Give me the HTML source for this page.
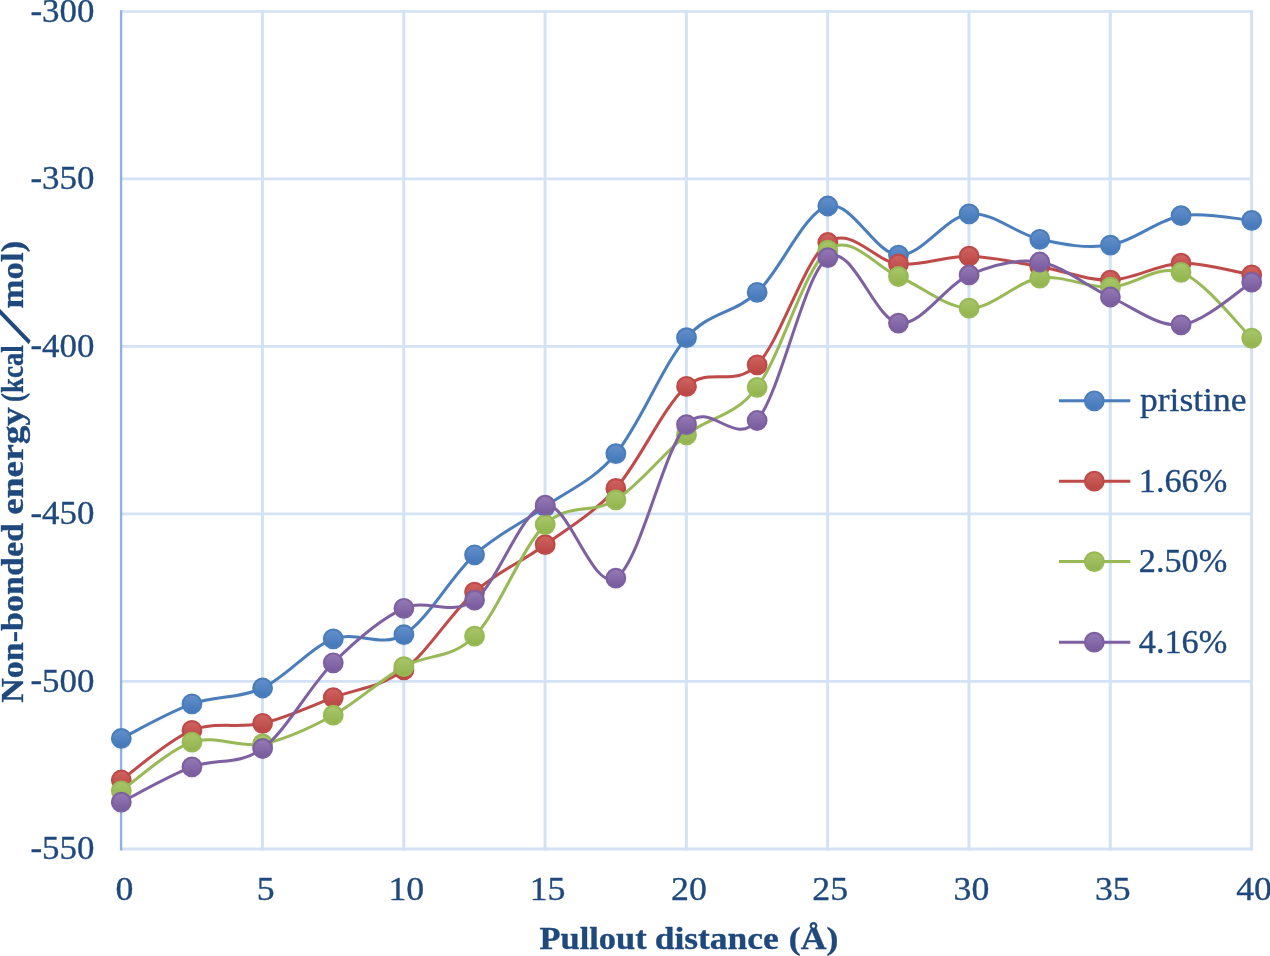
<!DOCTYPE html><html><head><meta charset="utf-8"><title>Pullout chart</title>
<style>html,body{margin:0;padding:0;background:#fff}svg{display:block}text{font-family:"Liberation Serif",serif;fill:#1F497D;stroke:#1F497D;stroke-width:0.35px}</style></head><body>
<svg width="1270" height="956" viewBox="0 0 1270 956">
<defs>
<linearGradient id="g_blue" x1="0" y1="0" x2="0" y2="1"><stop offset="0" stop-color="#6490CB"/><stop offset="1" stop-color="#4276B8"/></linearGradient>
<linearGradient id="g_red" x1="0" y1="0" x2="0" y2="1"><stop offset="0" stop-color="#D06461"/><stop offset="1" stop-color="#B84542"/></linearGradient>
<linearGradient id="g_green" x1="0" y1="0" x2="0" y2="1"><stop offset="0" stop-color="#A9C76C"/><stop offset="1" stop-color="#90B34B"/></linearGradient>
<linearGradient id="g_purple" x1="0" y1="0" x2="0" y2="1"><stop offset="0" stop-color="#957AB6"/><stop offset="1" stop-color="#76599B"/></linearGradient>
<filter id="sh" x="-20%" y="-20%" width="140%" height="140%"><feGaussianBlur in="SourceAlpha" stdDeviation="1.2"/><feOffset dx="0" dy="1" result="b"/><feComponentTransfer><feFuncA type="linear" slope="0.05"/></feComponentTransfer><feMerge><feMergeNode/><feMergeNode in="SourceGraphic"/></feMerge></filter>
</defs>
<rect width="1270" height="956" fill="#fff"/>
<line x1="121.3" y1="11.50" x2="1252.9" y2="11.50" stroke="#D3E2F4" stroke-width="2.7"/>
<line x1="121.3" y1="178.95" x2="1252.9" y2="178.95" stroke="#D3E2F4" stroke-width="2.7"/>
<line x1="121.3" y1="346.40" x2="1252.9" y2="346.40" stroke="#D3E2F4" stroke-width="2.7"/>
<line x1="121.3" y1="513.85" x2="1252.9" y2="513.85" stroke="#D3E2F4" stroke-width="2.7"/>
<line x1="121.3" y1="681.30" x2="1252.9" y2="681.30" stroke="#D3E2F4" stroke-width="2.7"/>
<line x1="121.3" y1="849.10" x2="1252.9" y2="849.10" stroke="#D3E2F4" stroke-width="3.0"/>
<line x1="262.45" y1="10.3" x2="262.45" y2="850.6" stroke="#D3E2F4" stroke-width="3"/>
<line x1="403.75" y1="10.3" x2="403.75" y2="850.6" stroke="#D3E2F4" stroke-width="3"/>
<line x1="545.05" y1="10.3" x2="545.05" y2="850.6" stroke="#D3E2F4" stroke-width="3"/>
<line x1="686.35" y1="10.3" x2="686.35" y2="850.6" stroke="#D3E2F4" stroke-width="3"/>
<line x1="827.65" y1="10.3" x2="827.65" y2="850.6" stroke="#D3E2F4" stroke-width="3"/>
<line x1="968.95" y1="10.3" x2="968.95" y2="850.6" stroke="#D3E2F4" stroke-width="3"/>
<line x1="1110.25" y1="10.3" x2="1110.25" y2="850.6" stroke="#D3E2F4" stroke-width="3"/>
<line x1="1251.55" y1="10.3" x2="1251.55" y2="850.6" stroke="#D3E2F4" stroke-width="3"/>
<line x1="121.10" y1="10.3" x2="121.10" y2="850.6" stroke="#8FB2E6" stroke-width="2.4"/>
<g filter="url(#sh)">
<path d="M121.30 738.40 C133.07 732.65 168.40 712.30 191.95 703.90 C215.50 695.50 239.05 698.83 262.60 688.00 C286.15 677.17 309.70 647.80 333.25 638.90 C356.80 630.00 380.35 648.62 403.90 634.60 C427.45 620.58 451.00 576.13 474.55 554.80 C498.10 533.47 521.65 523.45 545.20 506.60 C568.75 489.75 592.30 481.85 615.85 453.70 C639.40 425.55 662.95 364.58 686.50 337.70 C710.05 310.82 733.60 314.35 757.15 292.40 C780.70 270.45 804.25 212.22 827.80 206.00 C851.35 199.78 874.90 253.78 898.45 255.10 C922.00 256.42 945.55 216.53 969.10 213.90 C992.65 211.27 1016.20 234.10 1039.75 239.30 C1063.30 244.50 1086.85 249.03 1110.40 245.10 C1133.95 241.17 1157.50 219.82 1181.05 215.70 C1204.60 211.58 1239.92 219.62 1251.70 220.40" fill="none" stroke="#4A7EBB" stroke-width="3" stroke-linecap="round" stroke-linejoin="round"/>
<circle cx="121.30" cy="738.40" r="9.3" fill="url(#g_blue)" stroke="#4A7EBB" stroke-width="2.2"/>
<circle cx="191.95" cy="703.90" r="9.3" fill="url(#g_blue)" stroke="#4A7EBB" stroke-width="2.2"/>
<circle cx="262.60" cy="688.00" r="9.3" fill="url(#g_blue)" stroke="#4A7EBB" stroke-width="2.2"/>
<circle cx="333.25" cy="638.90" r="9.3" fill="url(#g_blue)" stroke="#4A7EBB" stroke-width="2.2"/>
<circle cx="403.90" cy="634.60" r="9.3" fill="url(#g_blue)" stroke="#4A7EBB" stroke-width="2.2"/>
<circle cx="474.55" cy="554.80" r="9.3" fill="url(#g_blue)" stroke="#4A7EBB" stroke-width="2.2"/>
<circle cx="545.20" cy="506.60" r="9.3" fill="url(#g_blue)" stroke="#4A7EBB" stroke-width="2.2"/>
<circle cx="615.85" cy="453.70" r="9.3" fill="url(#g_blue)" stroke="#4A7EBB" stroke-width="2.2"/>
<circle cx="686.50" cy="337.70" r="9.3" fill="url(#g_blue)" stroke="#4A7EBB" stroke-width="2.2"/>
<circle cx="757.15" cy="292.40" r="9.3" fill="url(#g_blue)" stroke="#4A7EBB" stroke-width="2.2"/>
<circle cx="827.80" cy="206.00" r="9.3" fill="url(#g_blue)" stroke="#4A7EBB" stroke-width="2.2"/>
<circle cx="898.45" cy="255.10" r="9.3" fill="url(#g_blue)" stroke="#4A7EBB" stroke-width="2.2"/>
<circle cx="969.10" cy="213.90" r="9.3" fill="url(#g_blue)" stroke="#4A7EBB" stroke-width="2.2"/>
<circle cx="1039.75" cy="239.30" r="9.3" fill="url(#g_blue)" stroke="#4A7EBB" stroke-width="2.2"/>
<circle cx="1110.40" cy="245.10" r="9.3" fill="url(#g_blue)" stroke="#4A7EBB" stroke-width="2.2"/>
<circle cx="1181.05" cy="215.70" r="9.3" fill="url(#g_blue)" stroke="#4A7EBB" stroke-width="2.2"/>
<circle cx="1251.70" cy="220.40" r="9.3" fill="url(#g_blue)" stroke="#4A7EBB" stroke-width="2.2"/>
</g>
<g filter="url(#sh)">
<path d="M121.30 780.00 C133.07 771.73 168.40 739.85 191.95 730.40 C215.50 720.95 239.05 728.77 262.60 723.30 C286.15 717.83 309.70 706.50 333.25 697.60 C356.80 688.70 380.35 687.48 403.90 669.90 C427.45 652.32 451.00 612.97 474.55 592.10 C498.10 571.23 521.65 561.98 545.20 544.70 C568.75 527.42 592.30 514.78 615.85 488.40 C639.40 462.02 662.95 407.00 686.50 386.40 C710.05 365.80 733.60 388.78 757.15 364.80 C780.70 340.82 804.25 259.32 827.80 242.50 C851.35 225.68 874.90 261.62 898.45 263.90 C922.00 266.18 945.55 255.75 969.10 256.20 C992.65 256.65 1016.20 262.62 1039.75 266.60 C1063.30 270.58 1086.85 280.67 1110.40 280.10 C1133.95 279.53 1157.50 264.07 1181.05 263.20 C1204.60 262.33 1239.92 272.95 1251.70 274.90" fill="none" stroke="#BE4B48" stroke-width="3" stroke-linecap="round" stroke-linejoin="round"/>
<circle cx="121.30" cy="780.00" r="9.3" fill="url(#g_red)" stroke="#BE4B48" stroke-width="2.2"/>
<circle cx="191.95" cy="730.40" r="9.3" fill="url(#g_red)" stroke="#BE4B48" stroke-width="2.2"/>
<circle cx="262.60" cy="723.30" r="9.3" fill="url(#g_red)" stroke="#BE4B48" stroke-width="2.2"/>
<circle cx="333.25" cy="697.60" r="9.3" fill="url(#g_red)" stroke="#BE4B48" stroke-width="2.2"/>
<circle cx="403.90" cy="669.90" r="9.3" fill="url(#g_red)" stroke="#BE4B48" stroke-width="2.2"/>
<circle cx="474.55" cy="592.10" r="9.3" fill="url(#g_red)" stroke="#BE4B48" stroke-width="2.2"/>
<circle cx="545.20" cy="544.70" r="9.3" fill="url(#g_red)" stroke="#BE4B48" stroke-width="2.2"/>
<circle cx="615.85" cy="488.40" r="9.3" fill="url(#g_red)" stroke="#BE4B48" stroke-width="2.2"/>
<circle cx="686.50" cy="386.40" r="9.3" fill="url(#g_red)" stroke="#BE4B48" stroke-width="2.2"/>
<circle cx="757.15" cy="364.80" r="9.3" fill="url(#g_red)" stroke="#BE4B48" stroke-width="2.2"/>
<circle cx="827.80" cy="242.50" r="9.3" fill="url(#g_red)" stroke="#BE4B48" stroke-width="2.2"/>
<circle cx="898.45" cy="263.90" r="9.3" fill="url(#g_red)" stroke="#BE4B48" stroke-width="2.2"/>
<circle cx="969.10" cy="256.20" r="9.3" fill="url(#g_red)" stroke="#BE4B48" stroke-width="2.2"/>
<circle cx="1039.75" cy="266.60" r="9.3" fill="url(#g_red)" stroke="#BE4B48" stroke-width="2.2"/>
<circle cx="1110.40" cy="280.10" r="9.3" fill="url(#g_red)" stroke="#BE4B48" stroke-width="2.2"/>
<circle cx="1181.05" cy="263.20" r="9.3" fill="url(#g_red)" stroke="#BE4B48" stroke-width="2.2"/>
<circle cx="1251.70" cy="274.90" r="9.3" fill="url(#g_red)" stroke="#BE4B48" stroke-width="2.2"/>
</g>
<g filter="url(#sh)">
<path d="M121.30 790.80 C133.07 782.70 168.40 750.02 191.95 742.20 C215.50 734.38 239.05 748.40 262.60 743.90 C286.15 739.40 309.70 728.08 333.25 715.20 C356.80 702.32 380.35 679.77 403.90 666.60 C427.45 653.43 451.00 659.87 474.55 636.20 C498.10 612.53 521.65 547.32 545.20 524.60 C568.75 501.88 592.30 514.87 615.85 499.90 C639.40 484.93 662.95 453.57 686.50 434.80 C710.05 416.03 733.60 418.07 757.15 387.30 C780.70 356.53 804.25 268.67 827.80 250.20 C851.35 231.73 874.90 266.83 898.45 276.50 C922.00 286.17 945.55 307.93 969.10 308.20 C992.65 308.47 1016.20 281.60 1039.75 278.10 C1063.30 274.60 1086.85 288.17 1110.40 287.20 C1133.95 286.23 1157.50 263.82 1181.05 272.30 C1204.60 280.78 1239.92 327.13 1251.70 338.10" fill="none" stroke="#98B954" stroke-width="3" stroke-linecap="round" stroke-linejoin="round"/>
<circle cx="121.30" cy="790.80" r="9.3" fill="url(#g_green)" stroke="#98B954" stroke-width="2.2"/>
<circle cx="191.95" cy="742.20" r="9.3" fill="url(#g_green)" stroke="#98B954" stroke-width="2.2"/>
<circle cx="262.60" cy="743.90" r="9.3" fill="url(#g_green)" stroke="#98B954" stroke-width="2.2"/>
<circle cx="333.25" cy="715.20" r="9.3" fill="url(#g_green)" stroke="#98B954" stroke-width="2.2"/>
<circle cx="403.90" cy="666.60" r="9.3" fill="url(#g_green)" stroke="#98B954" stroke-width="2.2"/>
<circle cx="474.55" cy="636.20" r="9.3" fill="url(#g_green)" stroke="#98B954" stroke-width="2.2"/>
<circle cx="545.20" cy="524.60" r="9.3" fill="url(#g_green)" stroke="#98B954" stroke-width="2.2"/>
<circle cx="615.85" cy="499.90" r="9.3" fill="url(#g_green)" stroke="#98B954" stroke-width="2.2"/>
<circle cx="686.50" cy="434.80" r="9.3" fill="url(#g_green)" stroke="#98B954" stroke-width="2.2"/>
<circle cx="757.15" cy="387.30" r="9.3" fill="url(#g_green)" stroke="#98B954" stroke-width="2.2"/>
<circle cx="827.80" cy="250.20" r="9.3" fill="url(#g_green)" stroke="#98B954" stroke-width="2.2"/>
<circle cx="898.45" cy="276.50" r="9.3" fill="url(#g_green)" stroke="#98B954" stroke-width="2.2"/>
<circle cx="969.10" cy="308.20" r="9.3" fill="url(#g_green)" stroke="#98B954" stroke-width="2.2"/>
<circle cx="1039.75" cy="278.10" r="9.3" fill="url(#g_green)" stroke="#98B954" stroke-width="2.2"/>
<circle cx="1110.40" cy="287.20" r="9.3" fill="url(#g_green)" stroke="#98B954" stroke-width="2.2"/>
<circle cx="1181.05" cy="272.30" r="9.3" fill="url(#g_green)" stroke="#98B954" stroke-width="2.2"/>
<circle cx="1251.70" cy="338.10" r="9.3" fill="url(#g_green)" stroke="#98B954" stroke-width="2.2"/>
</g>
<g filter="url(#sh)">
<path d="M121.30 802.20 C133.07 796.32 168.40 775.85 191.95 766.90 C215.50 757.95 239.05 765.85 262.60 748.50 C286.15 731.15 309.70 686.17 333.25 662.80 C356.80 639.43 380.35 618.75 403.90 608.30 C427.45 597.85 451.00 617.28 474.55 600.10 C498.10 582.92 521.65 508.87 545.20 505.20 C568.75 501.53 592.30 591.52 615.85 578.10 C639.40 564.68 662.95 450.97 686.50 424.70 C710.05 398.43 733.60 448.35 757.15 420.50 C780.70 392.65 804.25 273.83 827.80 257.60 C851.35 241.37 874.90 320.22 898.45 323.10 C922.00 325.98 945.55 285.08 969.10 274.90 C992.65 264.72 1016.20 258.32 1039.75 262.00 C1063.30 265.68 1086.85 286.53 1110.40 297.00 C1133.95 307.47 1157.50 327.27 1181.05 324.80 C1204.60 322.33 1239.92 289.30 1251.70 282.20" fill="none" stroke="#7D60A0" stroke-width="3" stroke-linecap="round" stroke-linejoin="round"/>
<circle cx="121.30" cy="802.20" r="9.3" fill="url(#g_purple)" stroke="#7D60A0" stroke-width="2.2"/>
<circle cx="191.95" cy="766.90" r="9.3" fill="url(#g_purple)" stroke="#7D60A0" stroke-width="2.2"/>
<circle cx="262.60" cy="748.50" r="9.3" fill="url(#g_purple)" stroke="#7D60A0" stroke-width="2.2"/>
<circle cx="333.25" cy="662.80" r="9.3" fill="url(#g_purple)" stroke="#7D60A0" stroke-width="2.2"/>
<circle cx="403.90" cy="608.30" r="9.3" fill="url(#g_purple)" stroke="#7D60A0" stroke-width="2.2"/>
<circle cx="474.55" cy="600.10" r="9.3" fill="url(#g_purple)" stroke="#7D60A0" stroke-width="2.2"/>
<circle cx="545.20" cy="505.20" r="9.3" fill="url(#g_purple)" stroke="#7D60A0" stroke-width="2.2"/>
<circle cx="615.85" cy="578.10" r="9.3" fill="url(#g_purple)" stroke="#7D60A0" stroke-width="2.2"/>
<circle cx="686.50" cy="424.70" r="9.3" fill="url(#g_purple)" stroke="#7D60A0" stroke-width="2.2"/>
<circle cx="757.15" cy="420.50" r="9.3" fill="url(#g_purple)" stroke="#7D60A0" stroke-width="2.2"/>
<circle cx="827.80" cy="257.60" r="9.3" fill="url(#g_purple)" stroke="#7D60A0" stroke-width="2.2"/>
<circle cx="898.45" cy="323.10" r="9.3" fill="url(#g_purple)" stroke="#7D60A0" stroke-width="2.2"/>
<circle cx="969.10" cy="274.90" r="9.3" fill="url(#g_purple)" stroke="#7D60A0" stroke-width="2.2"/>
<circle cx="1039.75" cy="262.00" r="9.3" fill="url(#g_purple)" stroke="#7D60A0" stroke-width="2.2"/>
<circle cx="1110.40" cy="297.00" r="9.3" fill="url(#g_purple)" stroke="#7D60A0" stroke-width="2.2"/>
<circle cx="1181.05" cy="324.80" r="9.3" fill="url(#g_purple)" stroke="#7D60A0" stroke-width="2.2"/>
<circle cx="1251.70" cy="282.20" r="9.3" fill="url(#g_purple)" stroke="#7D60A0" stroke-width="2.2"/>
</g>
<g filter="url(#sh)"><line x1="1059" y1="400.8" x2="1130.3" y2="400.8" stroke="#4A7EBB" stroke-width="3"/>
<circle cx="1094.3" cy="400.8" r="9.3" fill="url(#g_blue)" stroke="#4A7EBB" stroke-width="2.2"/></g>
<text class="lg" x="1140.0" y="411.1" font-size="34.6" textLength="106.5" lengthAdjust="spacingAndGlyphs">pristine</text>
<g filter="url(#sh)"><line x1="1059" y1="481.2" x2="1130.3" y2="481.2" stroke="#BE4B48" stroke-width="3"/>
<circle cx="1094.3" cy="481.2" r="9.3" fill="url(#g_red)" stroke="#BE4B48" stroke-width="2.2"/></g>
<text class="lg" x="1138.8" y="491.5" font-size="33.6" textLength="88.5" lengthAdjust="spacingAndGlyphs">1.66%</text>
<g filter="url(#sh)"><line x1="1059" y1="561.6" x2="1130.3" y2="561.6" stroke="#98B954" stroke-width="3"/>
<circle cx="1094.3" cy="561.6" r="9.3" fill="url(#g_green)" stroke="#98B954" stroke-width="2.2"/></g>
<text class="lg" x="1138.8" y="571.9" font-size="33.6" textLength="88.5" lengthAdjust="spacingAndGlyphs">2.50%</text>
<g filter="url(#sh)"><line x1="1059" y1="642.2" x2="1130.3" y2="642.2" stroke="#7D60A0" stroke-width="3"/>
<circle cx="1094.3" cy="642.2" r="9.3" fill="url(#g_purple)" stroke="#7D60A0" stroke-width="2.2"/></g>
<text class="lg" x="1138.8" y="652.5" font-size="33.6" textLength="88.5" lengthAdjust="spacingAndGlyphs">4.16%</text>
<text class="yt" x="30.5" y="21.9" font-size="33.7" textLength="64" lengthAdjust="spacingAndGlyphs"><tspan dy="-0.4">-</tspan><tspan dy="0.4">300</tspan></text>
<text class="yt" x="30.5" y="189.3" font-size="33.7" textLength="64" lengthAdjust="spacingAndGlyphs"><tspan dy="-0.4">-</tspan><tspan dy="0.4">350</tspan></text>
<text class="yt" x="30.5" y="356.8" font-size="33.7" textLength="64" lengthAdjust="spacingAndGlyphs"><tspan dy="-0.4">-</tspan><tspan dy="0.4">400</tspan></text>
<text class="yt" x="30.5" y="524.2" font-size="33.7" textLength="64" lengthAdjust="spacingAndGlyphs"><tspan dy="-0.4">-</tspan><tspan dy="0.4">450</tspan></text>
<text class="yt" x="30.5" y="691.7" font-size="33.7" textLength="64" lengthAdjust="spacingAndGlyphs"><tspan dy="-0.4">-</tspan><tspan dy="0.4">500</tspan></text>
<text class="yt" x="30.5" y="859.1" font-size="33.7" textLength="64" lengthAdjust="spacingAndGlyphs"><tspan dy="-0.4">-</tspan><tspan dy="0.4">550</tspan></text>
<text class="xt" x="115.4" y="900" font-size="33.6" textLength="17.9" lengthAdjust="spacingAndGlyphs">0</text>
<text class="xt" x="256.8" y="900" font-size="33.6" textLength="17.9" lengthAdjust="spacingAndGlyphs">5</text>
<text class="xt" x="388.4" y="900" font-size="33.6" textLength="35.8" lengthAdjust="spacingAndGlyphs">10</text>
<text class="xt" x="529.7" y="900" font-size="33.6" textLength="35.8" lengthAdjust="spacingAndGlyphs">15</text>
<text class="xt" x="671.0" y="900" font-size="33.6" textLength="35.8" lengthAdjust="spacingAndGlyphs">20</text>
<text class="xt" x="812.3" y="900" font-size="33.6" textLength="35.8" lengthAdjust="spacingAndGlyphs">25</text>
<text class="xt" x="953.6" y="900" font-size="33.6" textLength="35.8" lengthAdjust="spacingAndGlyphs">30</text>
<text class="xt" x="1094.9" y="900" font-size="33.6" textLength="35.8" lengthAdjust="spacingAndGlyphs">35</text>
<text class="xt" x="1236.2" y="900" font-size="33.6" textLength="35.8" lengthAdjust="spacingAndGlyphs">40</text>
<text class="xtitle" font-size="31.2" font-weight="bold"><tspan x="539.5" y="949" textLength="107.1" lengthAdjust="spacingAndGlyphs">Pullout</tspan> <tspan x="654.7" y="949" textLength="124.1" lengthAdjust="spacingAndGlyphs">distance</tspan> <tspan x="788.8" y="949" textLength="49.5" lengthAdjust="spacingAndGlyphs">(Å)</tspan></text>
<text class="ytitle" transform="translate(23.3 702.3) rotate(-90)" font-size="31.2" font-weight="bold"><tspan x="-0.5" y="0" textLength="179.8" lengthAdjust="spacingAndGlyphs">Non-bonded</tspan> <tspan x="187.6" y="0" textLength="107.7" lengthAdjust="spacingAndGlyphs">energy</tspan> <tspan x="300.4" y="0" textLength="56.7" lengthAdjust="spacingAndGlyphs">(kcal</tspan><tspan x="359.2" y="4.6" font-size="60" font-weight="normal" rotate="27" style="stroke-width:1.3px">/</tspan><tspan x="393.9" y="0" textLength="67.7" lengthAdjust="spacingAndGlyphs">mol)</tspan></text>
</svg></body></html>
